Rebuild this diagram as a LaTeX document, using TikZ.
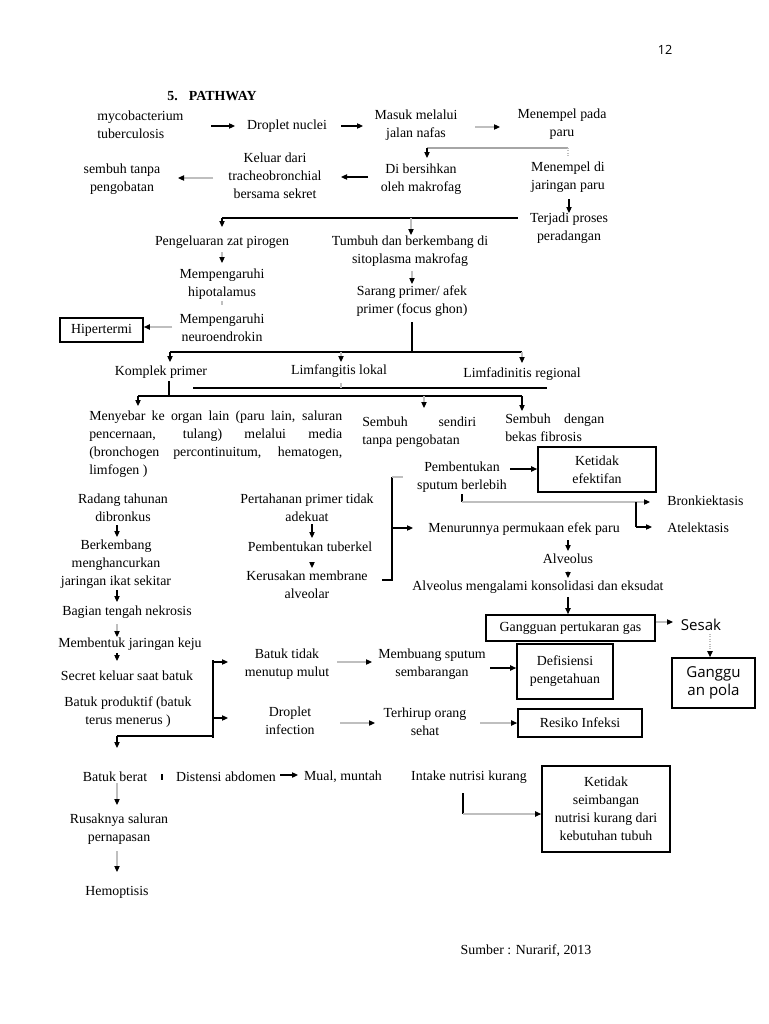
\documentclass[tikz,border=0pt]{standalone}
\usepackage{fontspec}
\setmainfont{Liberation Serif}
\newfontfamily\osans{Open Sans}
\usetikzlibrary{arrows.meta}
\newcommand\myfs{\fontsize{10.4}{13.5}\selectfont}
\begin{document}
\begin{tikzpicture}[x=0.75pt,y=-0.75pt,
 t/.style={font=\myfs,align=center,inner sep=0pt},
 bx/.style={draw,line width=1.3pt,font=\myfs,align=center,inner sep=0pt},
 sf/.style={font=\osans\fontsize{11.3}{13.5}\selectfont},
 ln/.style={line width=0.8pt},
 gl/.style={line width=0.8pt,draw=gray!50},
 arr/.style={ln,-{Triangle[length=4.5pt,width=4pt]}},
 garr/.style={gl,-{Triangle[length=4.5pt,width=4pt,color=black]}}]
\fill[white] (0,0) rectangle (768,1024);
\useasboundingbox (0,0) rectangle (768,1024);
% nodes
\node[font=\osans\fontsize{9.5}{11}\selectfont,inner sep=0pt] (pg) at (665,50) {12};
\node[t,font=\myfs\bfseries] (title) at (212,96) {5.\hspace{0.8em}PATHWAY};
\node[t,align=left,anchor=west] (myco) at (97,125) {mycobacterium\\tuberculosis};
\node[t] (drop) at (287,126) {Droplet nuclei};
\node[t] (masuk) at (416,125) {Masuk melalui\\jalan nafas};
\node[t] (mpada) at (562,124) {Menempel pada\\paru};
\node[t] (keluar) at (275,176) {Keluar dari\\tracheobronchial\\bersama sekret};
\node[t] (sembuh1) at (122,179.5) {sembuh tanpa\\pengobatan};
\node[t] (bersih) at (421,179.5) {Di bersihkan\\oleh makrofag};
\node[t] (mjar) at (568,177.5) {Menempel di\\jaringan paru};
\node[t] (terjadi) at (569,228) {Terjadi proses\\peradangan};
\node[t] (pirogen) at (222,242) {Pengeluaran zat pirogen};
\node[t] (tumbuh) at (410,251) {Tumbuh dan berkembang di\\sitoplasma makrofag};
\node[t] (hipo) at (222,284.5) {Mempengaruhi\\hipotalamus};
\node[t] (neuro) at (222,327.5) {Mempengaruhi\\neuroendrokin};
\node[bx,minimum width=62.25pt,minimum height=18pt] (hiper) at (101.5,330) {Hipertermi};
\node[t] (sarang) at (412,301) {Sarang primer/ afek\\primer (focus ghon)};
\node[t] (komplek) at (161,372) {Komplek primer};
\node[t] (limfang) at (339,371) {Limfangitis lokal};
\node[t] (limfad) at (522,374) {Limfadinitis regional};
\node[t,align=left,anchor=west] (menyebar) at (89,444) {\makebox[189.75pt][s]{Menyebar ke organ lain (paru lain, saluran}\\\makebox[189.75pt][s]{pencernaan, tulang) melalui media}\\\makebox[189.75pt][s]{(bronchogen percontinuitum, hematogen,}\\limfogen )};
\node[t,align=left,anchor=west] (sembuh2) at (362,432.5) {\makebox[85.5pt][s]{Sembuh sendiri}\\tanpa pengobatan};
\node[t,align=left,anchor=west] (sembuh3) at (505,427.5) {\makebox[74.25pt][s]{Sembuh dengan}\\bekas fibrosis};
\node[t] (sputum) at (462,477.5) {Pembentukan\\sputum berlebih};
\node[bx,minimum width=88.5pt,minimum height=33.75pt] (ket1) at (597,469.5) {Ketidak\\efektifan};
\node[t,anchor=west] (bronk) at (667,501) {Bronkiektasis};
\node[t,anchor=west] (atel) at (667,528) {Atelektasis};
\node[t] (menurun) at (524,529) {Menurunnya permukaan efek paru};
\node[t] (alv) at (568,559) {Alveolus};
\node[t] (alvk) at (538,587) {Alveolus mengalami konsolidasi dan eksudat};
\node[bx,minimum width=126.75pt,minimum height=19.5pt] (gas) at (570.5,628) {Gangguan pertukaran gas};
\node[sf,inner sep=0pt] (sesak) at (701,625) {Sesak};
\node[bx,sf,minimum width=62.25pt,minimum height=37.5pt] (ganggu) at (713.5,683) {Ganggu\\an pola};
\node[t] (pert) at (307,508) {Pertahanan primer tidak\\adekuat};
\node[t] (tuberkel) at (310,547) {Pembentukan tuberkel};
\node[t] (kerusakan) at (307,584.5) {Kerusakan membrane\\alveolar};
\node[t] (radang) at (123,507.5) {Radang tahunan\\dibronkus};
\node[t] (berk) at (116,564) {Berkembang\\menghancurkan\\jaringan ikat sekitar};
\node[t] (bagian) at (127,612) {Bagian tengah nekrosis};
\node[t] (keju) at (130,644) {Membentuk jaringan keju};
\node[t] (secret) at (127,676) {Secret keluar saat batuk};
\node[t] (produktif) at (128,712.5) {Batuk produktif (batuk\\terus menerus )};
\node[t] (tidak) at (287,664) {Batuk tidak\\menutup mulut};
\node[t] (membuang) at (432,664) {Membuang sputum\\sembarangan};
\node[bx,minimum width=72pt,minimum height=41.25pt] (defis) at (565,671.5) {Defisiensi\\pengetahuan};
\node[t] (dropinf) at (290,721) {Droplet\\infection};
\node[t] (terhirup) at (425,721.5) {Terhirup orang\\sehat};
\node[bx,minimum width=93pt,minimum height=21pt] (resiko) at (580,723) {Resiko Infeksi};
\node[t] (berat) at (115,777) {Batuk berat};
\node[t] (distensi) at (226,777) {Distensi abdomen};
\node[t] (mual) at (343,777) {Mual, muntah};
\node[t] (rusak) at (119,829.5) {Rusaknya saluran\\pernapasan};
\node[t] (hemo) at (117,892) {Hemoptisis};
\node[t] (intake) at (469,777) {Intake nutrisi kurang};
\node[bx,minimum width=96pt,minimum height=64.5pt] (ket2) at (606,809) {Ketidak\\seimbangan\\nutrisi kurang dari\\kebutuhan tubuh};
\node[t] (sumber) at (526,951) {Sumber : Nurarif, 2013};
% connectors
\draw[arr] (211,126) -- (235,126);
\draw[arr] (341,126) -- (363,126);
\draw[garr] (475,127) -- (500,127);
\draw[ln,draw=gray!70] (568,148) -- (427,148);
\draw[arr] (427,148) -- (427,158);
\draw[gl,densely dotted] (568,148) -- (568,156);
\draw[arr] (368,177) -- (341,177);
\draw[garr] (213,178) -- (178,178);
\draw[arr] (569,199) -- (569,213);
\draw[ln] (222,218) -- (518,218);
\draw[arr] (222,218) -- (222,227);
\draw[garr] (411,218) -- (411,235);
\draw[garr] (222,252) -- (222,263);
\draw[gl] (222,301) -- (222,305);
\draw[garr] (172,327) -- (hiper.east |- 172,327);
\draw[garr] (412,271) -- (412,284);
\draw[ln] (412,322) -- (412,352);
\draw[ln] (170,352) -- (522,352);
\draw[arr] (170,352) -- (170,362);
\draw[garr] (341,352) -- (341,362);
\draw[garr] (522,352) -- (522,363);
\draw[ln] (193,388) -- (547,388);
\draw[gl] (341,383) -- (341,388);
\draw[ln] (169,381) -- (169,396);
\draw[ln] (138,396) -- (522,396);
\draw[arr] (138,396) -- (138,406);
\draw[garr] (424,396) -- (424,408);
\draw[arr] (522,396) -- (522,411);
\draw[arr] (510,469) -- (ket1.west |- 510,469);
\draw[ln] (462,494) -- (462,502);
\draw[garr] (462,502) -- (650,502);
\draw[ln] (636,502) -- (636,527);
\draw[arr] (636,527) -- (652,527);
\draw[ln] (392,477) -- (392,580) -- (382,580);
\draw[gl] (392,477) -- (403,477);
\draw[arr] (392,528) -- (413,528);
\draw[arr] (568,540) -- (568,551);
\draw[garr] (568,571) -- (568,578);
\draw[arr] (568,597) -- (gas.north -| 568,597);
\draw[garr] (gas.east |- 658,622) -- (673,622);
\draw[garr,densely dotted] (710,634) -- (ganggu.north -| 710,634);
\draw[arr] (312,524) -- (312,538);
\draw[garr] (312,562) -- (312,568);
\draw[arr] (117,525) -- (117,537);
\draw[arr] (117,590) -- (117,602);
\draw[garr] (117,624) -- (117,637);
\draw[arr] (117,653) -- (117,661);
\draw[ln] (117,736) -- (213,736);
\draw[ln] (213,660) -- (213,738);
\draw[arr] (213,662) -- (228,662);
\draw[arr] (213,718) -- (228,718);
\draw[arr] (117,736) -- (117,748);
\draw[garr] (337,662) -- (372,662);
\draw[arr] (490,668) -- (defis.west |- 490,668);
\draw[garr] (340,723) -- (375,723);
\draw[garr] (480,723) -- (resiko.west |- 480,723);
\draw[ln] (162,774) -- (162,780);
\draw[arr] (280,775) -- (298,775);
\draw[garr] (117,783) -- (117,805);
\draw[garr] (117,851) -- (117,872);
\draw[ln] (463,793) -- (463,814);
\draw[garr] (463,814) -- (ket2.west |- 463,814);
\end{tikzpicture}
\end{document}
